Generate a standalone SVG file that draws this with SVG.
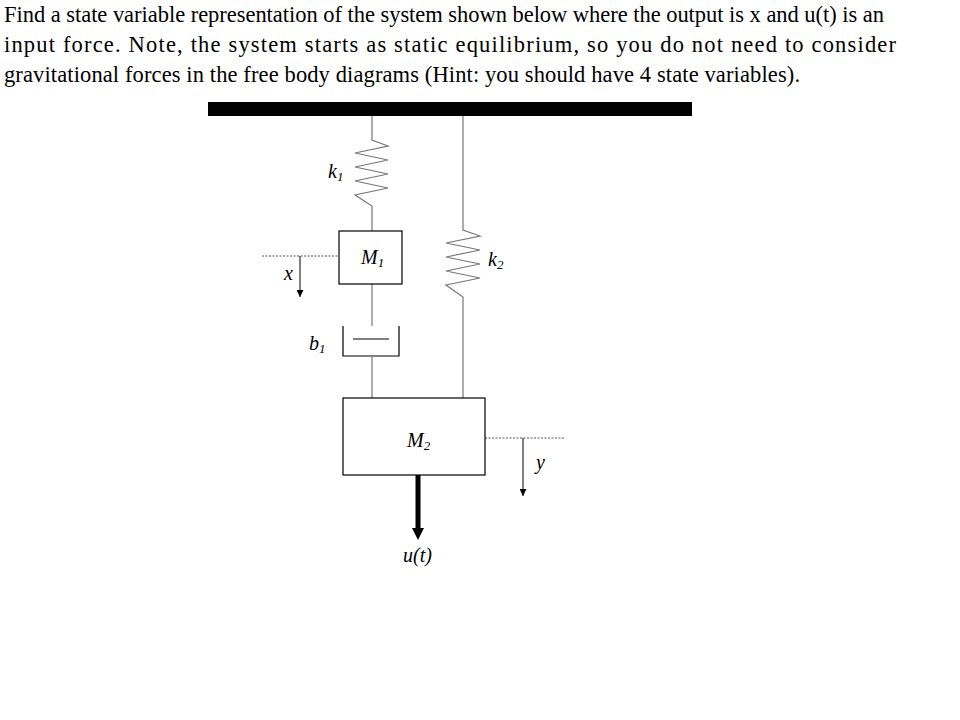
<svg xmlns="http://www.w3.org/2000/svg" width="960" height="720" viewBox="0 0 960 720">
<style>
.t{font-family:"Liberation Serif",serif;font-size:22.5px;fill:#000}
.i{font-family:"Liberation Serif",serif;font-style:italic;font-size:20px;fill:#000}
.s{font-size:13px}
.l{stroke:#777;stroke-width:1.2;fill:none}
.b{stroke:#000;stroke-width:1.2;fill:#fff}
.d{stroke:#555;stroke-width:1;stroke-dasharray:2,1.5;fill:none}
</style>
<defs>
<marker id="ah" viewBox="0 0 10 10" refX="10" refY="5" markerWidth="7" markerHeight="7" orient="auto" markerUnits="userSpaceOnUse"><path d="M0,0 L10,5 L0,10 Z" fill="#000"/></marker>
</defs>
<text class="t" x="4" y="22" textLength="880" lengthAdjust="spacing">Find a state variable representation of the system shown below where the output is x and u(t) is an</text>
<text class="t" x="4" y="52" textLength="892" lengthAdjust="spacing">input force. Note, the system starts as static equilibrium, so you do not need to consider</text>
<text class="t" x="4" y="82" textLength="796" lengthAdjust="spacing">gravitational forces in the free body diagrams (Hint: you should have 4 state variables).</text>
<g id="ground"><rect x="208" y="102" width="484" height="14" fill="#000"/></g>
<g id="connectors">
<polyline class="l" points="372,116 372,140 388,146 355,153 388,160 355,167 388,174 355,181 388,188 355,195 372,206 372,231"/>
<line class="l" x1="372" y1="284" x2="372" y2="339"/>
<path class="b" d="M343,326 L343,356 L399,356 L399,326" fill="none"/>
<line class="b" x1="353" y1="339" x2="389" y2="339"/>
<line class="l" x1="372" y1="356" x2="372" y2="398"/>
<polyline class="l" points="463,116 463,230 480,236 446,243 480,250 446,257 480,264 446,271 480,278 446,285 463,297 463,398"/>
<line class="d" x1="262" y1="256" x2="339" y2="256"/>
<line x1="300" y1="256" x2="300" y2="297" stroke="#000" stroke-width="1" marker-end="url(#ah)"/>
<line class="d" x1="485" y1="438" x2="565" y2="438"/>
<line x1="523" y1="438" x2="523" y2="496" stroke="#000" stroke-width="1" marker-end="url(#ah)"/>
<line x1="418" y1="475" x2="418" y2="530" stroke="#000" stroke-width="5"/>
<path d="M412,528 L424,528 L418,540 Z" fill="#000"/>
</g>
<g id="M1"><rect class="b" x="339" y="231" width="63" height="53"/><text class="i" x="361" y="264">M<tspan class="s" dy="3">1</tspan></text></g>
<g id="M2"><rect class="b" x="343" y="398" width="142" height="77"/><text class="i" x="407" y="447">M<tspan class="s" dy="3">2</tspan></text></g>
<g id="labels">
<text class="i" x="328" y="178">k<tspan class="s" dy="3">1</tspan></text>
<text class="i" x="488" y="266">k<tspan class="s" dy="3">2</tspan></text>
<text class="i" x="284" y="280">x</text>
<text class="i" x="309" y="350">b<tspan class="s" dy="3">1</tspan></text>
<text class="i" x="536" y="469">y</text>
<text class="i" x="403" y="562">u(t)</text>
</g>
</svg>
